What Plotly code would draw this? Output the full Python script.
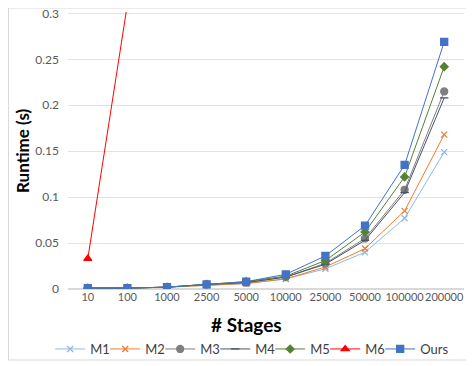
import plotly.graph_objects as go

stages = ["10", "100", "1000", "2500", "5000", "10000", "25000", "50000", "100000", "200000"]
m1 = [0.001, 0.001, 0.002, 0.004, 0.006, 0.011, 0.022, 0.040, 0.077, 0.149]
m2 = [0.001, 0.001, 0.002, 0.004, 0.006, 0.011, 0.024, 0.044, 0.085, 0.168]
m3 = [0.001, 0.001, 0.002, 0.005, 0.007, 0.013, 0.028, 0.055, 0.108, 0.215]
m4 = [0.001, 0.001, 0.002, 0.005, 0.007, 0.013, 0.027, 0.053, 0.105, 0.208]
m5 = [0.001, 0.001, 0.002, 0.005, 0.008, 0.014, 0.031, 0.062, 0.122, 0.242]
m6_x = ["10", "100"]
m6 = [0.033, 0.31]
ours = [0.001, 0.001, 0.002, 0.005, 0.008, 0.016, 0.036, 0.069, 0.135, 0.269]

series = [
    ("M1", stages, m1, "#8FB9E3", "x-thin", 6),
    ("M2", stages, m2, "#ED7D31", "x-thin", 6),
    ("M3", stages, m3, "#7F7F7F", "circle", 7),
    ("M4", stages, m4, "#44546A", "line-ew", 6),
    ("M5", stages, m5, "#548235", "diamond", 6),
    ("M6", m6_x, m6, "#FF0000", "triangle-up", 7),
    ("Ours", stages, ours, "#4472C4", "square", 7),
]

fig = go.Figure()
for name, xs, ys, col, sym, sz in series:
    fig.add_trace(go.Scatter(
        x=xs, y=ys, name=name, mode="lines+markers",
        line=dict(color=col, width=1),
        marker=dict(symbol=sym, size=sz, color=col, line=dict(color=col, width=1.3)),
        legendwidth=31 if name == "Ours" else None,
    ))

# the page body adds an 8px offset, so the figure is 8px smaller than the window
fig.update_layout(
    width=466, height=358,
    margin=dict(l=60, r=10, t=4, b=77, autoexpand=False),
    paper_bgcolor="white", plot_bgcolor="white",
    font=dict(family="Lato, Open Sans, sans-serif", color="#595959"),
    showlegend=True,
    legend=dict(orientation="h", x=-0.045, xanchor="left",
                y=(290 - 350) / 277, yanchor="middle",
                font=dict(size=13, color="#404040"), itemwidth=30, tracegroupgap=0,
                entrywidth=10, entrywidthmode="pixels",
                bgcolor="rgba(0,0,0,0)"),
    xaxis=dict(type="category", categoryorder="array", categoryarray=stages,
               range=[-0.5, 9.5], showgrid=False, showline=False, zeroline=False,
               ticks="", tickangle=0, tickfont=dict(size=11, color="#595959")),
    yaxis=dict(range=[0, 0.3015], tickvals=[0, 0.05, 0.1, 0.15, 0.2, 0.25, 0.3],
               ticktext=["0", "0.05", "0.1", "0.15", "0.2", "0.25", "0.3"],
               showgrid=True, gridcolor="#E3E3E3", gridwidth=1, zeroline=True,
               zerolinecolor="#D9D9D9", showline=False, ticks="",
               ticklabeloverflow="allow",
               tickfont=dict(size=12, color="#595959"), ticklabelstandoff=8),
    annotations=[
        dict(text="<b># Stages</b>", xref="paper", yref="paper", x=(246 - 68) / 396,
             y=(290 - 325) / 277, xanchor="center", yanchor="middle", showarrow=False,
             font=dict(size=19, color="#000000")),
        dict(text="<b>Runtime (s)</b>", xref="paper", yref="paper", x=(22 - 68) / 396,
             y=(290 - 152) / 277, xanchor="center", yanchor="middle", showarrow=False,
             textangle=-90, font=dict(size=17, color="#000000")),
    ],
    shapes=[dict(type="rect", xref="paper", yref="paper",
                 x0=(8.5 - 68) / 396, x1=(469 - 68) / 396,
                 y0=(290 - 361) / 277, y1=(290 - 9) / 277,
                 line=dict(color="#D9D9D9", width=1), fillcolor="rgba(0,0,0,0)",
                 layer="below")],
)

fig.write_html("out.html")
